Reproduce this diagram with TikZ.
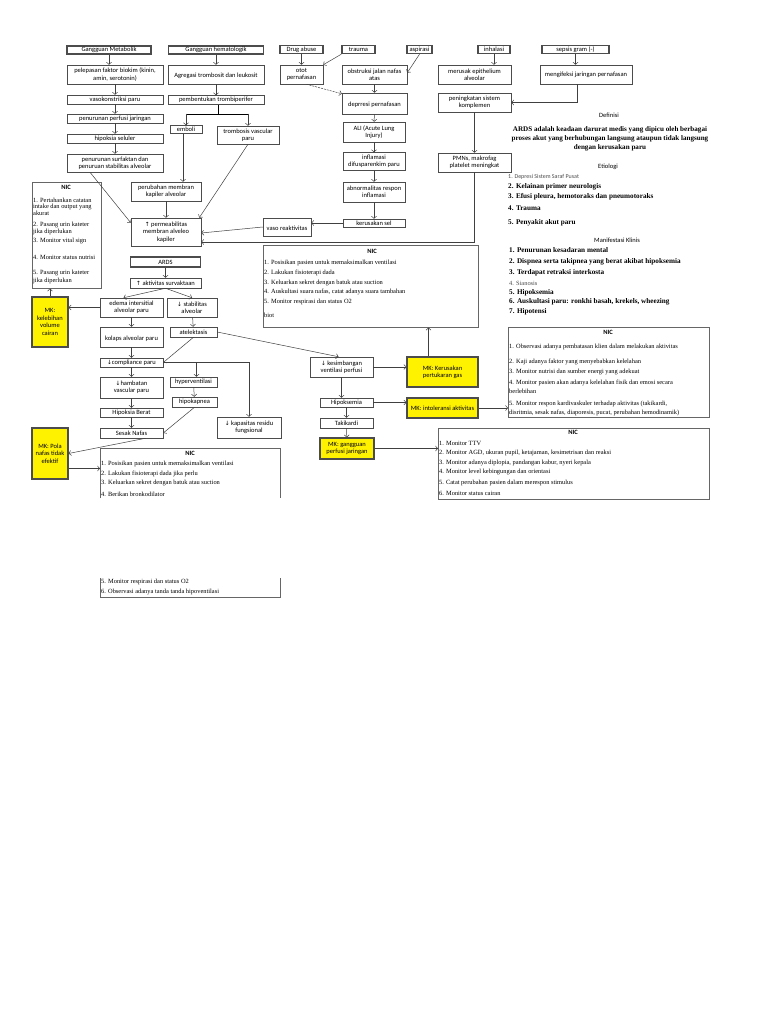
\documentclass[tikz,border=0pt]{standalone}
\usepackage{fontspec}
\setmainfont{Carlito}
\newfontfamily\tnr{Liberation Serif}
\newfontfamily\symf{DejaVu Sans}
\usetikzlibrary{arrows.meta,calc}
\newcommand\boxfont{\fontsize{6.5}{7.4}\selectfont}
\newcommand\nicfont{\tnr\fontsize{6.4}{7}\selectfont}
\newcommand\listfont{\tnr\bfseries\fontsize{7.2}{8}\selectfont}
\newcommand\arrup{{\symf\fontsize{5.8}{5.8}\selectfont ↑}}
\newcommand\arrdn{{\symf\fontsize{5.8}{5.8}\selectfont ↓}}
\tikzset{
  box/.style={draw=black!70, line width=0.5pt, fill=white, align=center, font=\boxfont, inner sep=0pt},
  topbox/.style={box, line width=1.5pt},
  mkbox/.style={box, fill=yellow, line width=1.2pt},
  nicbox/.style={draw=black!60, line width=0.6pt, inner sep=0pt, anchor=north west},
  nictxt/.style={anchor=west, font=\nicfont, inner sep=0pt},
  listtxt/.style={anchor=west, font=\listfont, inner sep=0pt},
  head/.style={font=\boxfont, inner sep=0pt},
  arr/.style={draw=black!75, line width=0.5pt, -{Straight Barb[length=2.2pt,width=5pt]}},
}
\begin{document}
\begin{tikzpicture}[x=1pt,y=-1pt]
\useasboundingbox[fill=white] (0,0) rectangle (768,1024);

% penyebab
\node[topbox, minimum width=84, minimum height=8] (metab) at (109,50) {Gangguan Metabolik};
\node[topbox, minimum width=95, minimum height=8] (hemato) at (216,50) {Gangguan hematologik};
\node[topbox, minimum width=43, minimum height=8] (drug) at (301.5,49.5) {Drug abuse};
\node[topbox, minimum width=33, minimum height=8] (trauma) at (358.5,49.5) {trauma};
\node[topbox, minimum width=25, minimum height=8] (aspirasi) at (419.5,49.5) {aspirasi};
\node[topbox, minimum width=32, minimum height=8] (inhalasi) at (494,49.5) {inhalasi};
\node[topbox, minimum width=67, minimum height=8] (sepsis) at (575.5,49.5) {sepsis gram (-)};

% jalur metabolik
\node[box, minimum width=96, minimum height=19] (pelepasan) at (115,74.5) {pelepasan faktor biokim (kinin,\\amin, serotonin)};
\node[box, minimum width=96, minimum height=9] (vasok) at (115,99.5) {vasokonstriksi paru};
\node[box, minimum width=96, minimum height=9] (perfusi) at (115,118.5) {penurunan perfusi jaringan};
\node[box, minimum width=96, minimum height=9] (hipoksel) at (115,138.5) {hipoksia seluler};
\node[box, minimum width=96, minimum height=18] (surfaktan) at (115,163) {penurunan surfaktan dan\\penuruan stabilitas alveolar};

% jalur hematologik
\node[box, minimum width=96, minimum height=19] (agregasi) at (216,74.5) {~\\Agregasi trombosit dan leukosit};
\node[box, minimum width=96, minimum height=9] (pembentukan) at (216,100) {pembentukan trombiperifer};
\node[box, minimum width=32, minimum height=8] (emboli) at (186,129.5) {emboli};
\node[box, minimum width=62, minimum height=18] (trombosis) at (248,135) {trombosis vascular\\paru};
\node[box, minimum width=70, minimum height=19] (perubahan) at (166,191.5) {perubahan membran\\kapiler alveolar};
\node[box, minimum width=70, minimum height=28] (permea) at (166,232) {\arrup\ permeabilitas\\membran alveleo\\kapiler};

% jalur pernafasan
\node[box, minimum width=43, minimum height=19] (otot) at (301.5,74.5) {otot\\pernafasan};
\node[box, minimum width=65, minimum height=19] (obstruksi) at (374.5,74.5) {obstruksi jalan nafas\\atas};
\node[box, minimum width=65, minimum height=21] (depresi) at (374.5,103.5) {~\\deprresi pernafasan};
\node[box, minimum width=62, minimum height=20] (ali) at (374,132) {ALI (Acute Lung\\Injury)};
\node[box, minimum width=62, minimum height=18] (inflamasi) at (374,161.5) {inflamasi\\difusparenkim paru};
\node[box, minimum width=62, minimum height=20] (abnormal) at (374,192) {abnormalitas respon\\inflamasi};
\node[box, minimum width=62, minimum height=8] (kerusakan) at (374,223) {kerusakan sel};
\node[box, minimum width=48, minimum height=18] (vaso) at (287,227) {~\\vaso reaktivitas};

% jalur inhalasi / sepsis
\node[box, minimum width=73, minimum height=19] (merusak) at (474.5,74.5) {merusak epithelium\\alveolar};
\node[box, minimum width=92, minimum height=19] (mengifeksi) at (586,74.5) {mengifeksi jaringan pernafasan};
\node[box, minimum width=73, minimum height=19] (peningkatan) at (474.5,102.5) {peningkatan sistem\\komplemen};
\node[box, minimum width=73, minimum height=19] (pmns) at (474.5,162.5) {PMNs, makrofag\\platelet meningkat};

% ARDS
\node[topbox, minimum width=70, minimum height=10] (ards) at (165.5,262) {ARDS};
\node[box, minimum width=71, minimum height=10] (aktivitas) at (165.5,283) {\arrup\ aktivitas survaktaan};
\node[box, minimum width=63, minimum height=19] (edema) at (131.5,307.5) {edema intersitial\\alveolar paru};
\node[box, minimum width=50, minimum height=19] (stabilitas) at (192,307.5) {\arrdn\ stabilitas\\alveolar};
\node[box, minimum width=63, minimum height=20] (kolaps) at (131.5,337) {~\\kolaps alveolar paru};
\node[box, minimum width=47, minimum height=10] (atelek) at (193.5,332) {atelektasis};
\node[box, minimum width=63, minimum height=9] (compliance) at (131.5,362.5) {\arrdn compliance paru};
\node[box, minimum width=63, minimum height=21] (hambatan) at (131.5,387.5) {\arrdn hambatan\\vascular paru};
\node[box, minimum width=47, minimum height=10] (hyper) at (193.5,382) {hyperventilasi};
\node[box, minimum width=45, minimum height=10] (hipokap) at (194.5,402) {hipokapnea};
\node[box, minimum width=63, minimum height=9] (hipoksb) at (131.5,412.5) {Hipoksia Berat};
\node[box, minimum width=63, minimum height=10] (sesak) at (131.5,433) {Sesak Nafas};
\node[box, minimum width=64, minimum height=21] (kapasitas) at (249,427.5) {\arrdn\ kapasitas residu\\fungsional};
\node[box, minimum width=63, minimum height=20] (kesim) at (341.5,367) {\arrdn\ kesimbangan\\ventilasi perfusi};
\node[box, minimum width=53, minimum height=9] (hipoksemia) at (346.5,402.5) {Hipoksemia};
\node[box, minimum width=53, minimum height=10] (takikardi) at (346.5,423) {Takikardi};

% diagnosa
\node[mkbox, minimum width=36, minimum height=50] (mkcairan) at (50,322) {MK:\\kelebihan\\volume\\cairan};
\node[mkbox, minimum width=36, minimum height=51] (mkpola) at (50,453.5) {MK: Pola\\nafas tidak\\efektif};
\node[mkbox, minimum width=71, minimum height=30] (mkgas) at (442.5,372) {MK: Kerusakan\\pertukaran gas};
\node[mkbox, minimum width=71, minimum height=20] (mkakt) at (442.5,408) {MK: intoleransi aktivitas};
\node[mkbox, minimum width=54, minimum height=21] (mkperf) at (347,448.5) {MK: gangguan\\perfusi jaringan};

% NIC
\node[nicbox, minimum width=69, minimum height=106] (nica) at (32,182) {};
\node[head, font=\boxfont\bfseries] at (66,187) {NIC};
\node[nictxt] at (33,200) {1. Pertahankan catatan};
\node[nictxt] at (33,207) {intake dan output yang};
\node[nictxt] at (33,213.5) {akurat};
\node[nictxt] at (33,225) {2. Pasang urin kateter};
\node[nictxt] at (33,232) {jika diperlukan};
\node[nictxt] at (33,241) {3. Monitor vital sign};
\node[nictxt] at (33,257) {4. Monitor status nutrisi};
\node[nictxt] at (33,273) {5. Pasang urin kateter};
\node[nictxt] at (33,281) {jika diperlukan};

\node[nicbox, minimum width=215, minimum height=82] (nicb) at (263,245) {};
\node[head, font=\boxfont\bfseries] at (372,251) {NIC};
\node[nictxt] at (264,263) {1. Posisikan pasien untuk memaksimalkan ventilasi};
\node[nictxt] at (264,273) {2. Lakukan fisioterapi dada};
\node[nictxt] at (264,283) {3. Keluarkan sekret dengan batuk atau suction};
\node[nictxt] at (264,292) {4. Auskultasi suara nafas, catat adanya suara tambahan};
\node[nictxt] at (264,302) {5. Monitor respirasi dan status O2};
\node[nictxt] at (264,315) {biot};

\node[nicbox, minimum width=201, minimum height=90] (nicd) at (508,327) {};
\node[head, font=\boxfont\bfseries] at (608,332) {NIC};
\node[nictxt] at (509,347) {1. Observasi adanya pembatasan klien dalam melakukan aktivitas};
\node[nictxt] at (509,362) {2. Kaji adanya faktor yang menyebabkan kelelahan};
\node[nictxt] at (509,372) {3. Monitor nutrisi dan sumber energi yang adekuat};
\node[nictxt] at (509,383) {4. Monitor pasien akan adanya kelelahan fisik dan emosi secara};
\node[nictxt] at (509,391) {berlebihan};
\node[nictxt] at (509,404) {5. Monitor respon kardivaskuler terhadap aktivitas (takikardi,};
\node[nictxt] at (509,413) {disritmia, sesak nafas, diaporesis, pucat, perubahan hemodinamik)};

\node[nicbox, minimum width=271, minimum height=71] (nice) at (438,428) {};
\node[head, font=\boxfont\bfseries] at (573,432) {NIC};
\node[nictxt] at (439,443) {1. Monitor TTV};
\node[nictxt] at (439,453) {2. Monitor AGD, ukuran pupil, ketajaman, kesimetrisan dan reaksi};
\node[nictxt] at (439,463) {3. Monitor adanya diplopia, pandangan kabur, nyeri kepala};
\node[nictxt] at (439,472) {4. Monitor level kebingungan dan orientasi};
\node[nictxt] at (439,483) {5. Catat perubahan pasien dalam merespon stimulus};
\node[nictxt] at (439,493) {6. Monitor status cairan};

% NIC pola nafas (terpotong halaman)
\coordinate (nicc) at (100,448);
\draw[black!60, line width=0.6pt] (100,498) -- (nicc) -- (280,448) -- (280,498);
\draw[black!60, line width=0.6pt] (100,578) -- (100,597) -- (280,597) -- (280,578);
\node[head, font=\boxfont\bfseries] at (190,453) {NIC};
\node[nictxt] at (101,464) {1. Posisikan pasien untuk memaksimalkan ventilasi};
\node[nictxt] at (101,474) {2. Lakukan fisioterapi dada jika perlu};
\node[nictxt] at (101,483) {3. Keluarkan sekret dengan batuk atau suction};
\node[nictxt] at (101,494) {4. Berikan bronkodilator};
\node[nictxt] at (101,582) {5. Monitor respirasi dan status O2};
\node[nictxt] at (101,592) {6. Observasi adanya tanda tanda hipoventilasi};

% definisi, etiologi, manifestasi
\node[head] at (609,115) {Definisi};
\node[inner sep=0pt, font=\tnr\bfseries\fontsize{7.1}{8}\selectfont] at (610,130) {ARDS adalah keadaan darurat medis yang dipicu oleh berbagai};
\node[inner sep=0pt, font=\tnr\bfseries\fontsize{7.1}{8}\selectfont] at (610,139) {proses akut yang berhubungan langsung ataupun tidak langsung};
\node[inner sep=0pt, font=\tnr\bfseries\fontsize{7.1}{8}\selectfont] at (610,148) {dengan kerusakan paru};
\node[head] at (608,167) {Etiologi};
\node[anchor=west, inner sep=0pt, font=\fontsize{6}{6}\selectfont, text=black!70] at (508,177) {1. Depresi Sistem Saraf Pusat};
\node[listtxt] at (508,186.5) {2. Kelainan primer neurologis};
\node[listtxt] at (508,197) {3. Efusi pleura, hemotoraks dan pneumotoraks};
\node[listtxt] at (508,208.5) {4. Trauma};
\node[listtxt] at (508,223) {5. Penyakit akut paru};
\node[head] at (617,240) {Manifestasi Klinis};
\node[listtxt] at (509,250.5) {1. Penurunan kesadaran mental};
\node[listtxt] at (509,262) {2. Dispnea serta takipnea yang berat akibat hipoksemia};
\node[listtxt] at (509,273) {3. Terdapat retraksi interkosta};
\node[nictxt, text=black!70] at (509,283) {4. Sianosis};
\node[listtxt] at (509,293) {5. Hipoksemia};
\node[listtxt] at (509,302) {6. Auskultasi paru: ronkhi basah, krekels, wheezing};
\node[listtxt] at (509,312) {7. Hipotensi};

% panah metabolik
\draw[arr] (metab.south) -- (metab.south |- pelepasan.north);
\draw[arr] (pelepasan) -- (vasok);
\draw[arr] (vasok) -- (perfusi);
\draw[arr] (perfusi) -- (hipoksel);
\draw[arr] (hipoksel) -- (surfaktan);
\draw[arr] ([xshift=-25pt]surfaktan.south) -- ([yshift=-5pt]permea.north west);

% panah hematologik
\draw[arr] (hemato.south) -- (hemato.south |- agregasi.north);
\draw[arr] (agregasi) -- (pembentukan);
\draw ([xshift=2pt]pembentukan.south) -- ++(0,9) coordinate (cab);
\draw (emboli.north |- cab) -- (trombosis.north |- cab);
\draw[arr] (emboli.north |- cab) -- (emboli.north);
\draw[arr] (trombosis.north |- cab) -- (trombosis.north);
\draw[arr] ([xshift=-3pt]emboli.south) -- ([xshift=-3pt]emboli.south |- perubahan.north);
\draw[arr] (trombosis.south) -- ([xshift=-2pt]permea.north east);
\draw[arr] (perubahan) -- (permea);

% panah pernafasan
\draw[arr] (drug.south) -- (drug.south |- otot.north);
\draw[arr] (trauma.south west) -- (otot.north east);
\draw[arr] (aspirasi.south) -- ([yshift=-8pt]obstruksi.north east);
\draw[arr, dash pattern=on 2pt off 1pt] ([xshift=5pt]otot.south) -- ([yshift=-1pt]depresi.north west);
\draw[arr] (obstruksi) -- (depresi);
\draw[arr] (depresi) -- (ali);
\draw[arr] (ali) -- (inflamasi);
\draw[arr] (inflamasi) -- (abnormal);
\draw[arr] (abnormal) -- (kerusakan);
\draw[arr] (kerusakan.west) -- (vaso.east |- kerusakan.west);
\draw[arr] (vaso.west) -- ([yshift=-1pt]permea.east);

% panah inhalasi / sepsis
\draw[arr] (inhalasi.south) -- (inhalasi.south |- merusak.north);
\draw[arr] (sepsis.south) -- (sepsis.south |- mengifeksi.north);
\draw[arr] ([xshift=-9pt]mengifeksi.south) |- (peningkatan.east);
\draw[arr] (peningkatan) -- (pmns);
\draw[arr] (pmns.south) |- ([yshift=-10pt]permea.east);

% panah ARDS
\draw[arr] (ards) -- (aktivitas);
\draw[arr] (aktivitas.south) -- ([xshift=-8pt]edema.north);
\draw[arr] (aktivitas.south) -- (stabilitas.north);
\draw[arr] (edema.west) -- (mkcairan.east |- edema.west);
\draw[arr] (mkcairan.north) -- (mkcairan.north |- nica.south);
\draw[arr] (edema) -- (kolaps);
\draw[arr] (stabilitas) -- (atelek);
\draw[arr] (atelek.south) -- (compliance.east);
\draw[arr] (atelek.east) -- ([xshift=-3pt]kesim.north);
\draw[arr] (kolaps) -- (compliance);
\draw[arr] (compliance.east) -| (kapasitas.north);
\draw[arr] ([xshift=3pt]hyper.north |- compliance.east) -- ([xshift=3pt]hyper.north);
\draw[arr] (hyper) -- (hipokap);
\draw[arr] (compliance) -- (hambatan);
\draw[arr] (hambatan) -- (hipoksb);
\draw[arr] (hipoksb) -- (sesak);
\draw[arr] (hipokap.south) -- (sesak.east);
\draw[arr] ([xshift=14pt]sesak.south) -- (mkpola.east);
\coordinate (polaout) at ([yshift=-15pt]mkpola.east);
\draw[arr] (polaout) -- (nicc |- polaout);

% panah gas / perfusi
\draw[arr] (kesim.east) -- (mkgas.west |- kesim.east);
\draw[arr] ([xshift=-14pt]mkgas.north) -- ([xshift=-14pt]mkgas.north |- nicb.south);
\draw[arr] (kesim.south) -- (kesim.south |- hipoksemia.north);
\draw[arr] (hipoksemia.east) -- (mkakt.west |- hipoksemia.east);
\draw[arr] (mkakt.east) -- (nicd.west |- mkakt.east);
\draw[arr] (hipoksemia) -- (takikardi);
\draw[arr] (takikardi) -- (mkperf);
\draw[arr] (mkperf.east) -- (nice.west |- mkperf.east);
\end{tikzpicture}
\end{document}
